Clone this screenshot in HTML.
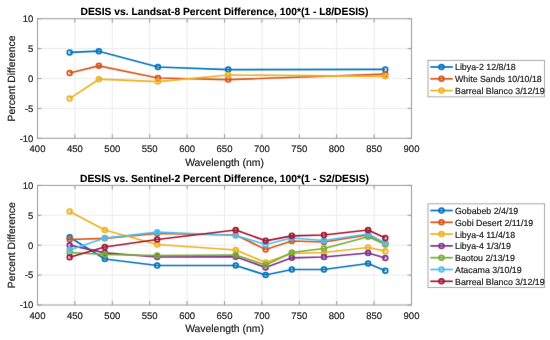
<!DOCTYPE html>
<html><head><meta charset="utf-8"><style>
html,body{margin:0;padding:0;background:#fff;}
svg{display:block;font-family:"Liberation Sans",Arial,sans-serif;}
text{stroke:#262626;stroke-width:0.2px;text-rendering:geometricPrecision;}
</style></head><body>
<svg width="550" height="340" viewBox="0 0 550 340">
<defs><filter id="soft" x="0" y="0" width="550" height="340" filterUnits="userSpaceOnUse" color-interpolation-filters="sRGB"><feConvolveMatrix order="3" kernelMatrix="0.02 0.09 0.02 0.09 1 0.09 0.02 0.09 0.02" edgeMode="duplicate" preserveAlpha="true"/></filter></defs>
<g filter="url(#soft)">
<rect width="550" height="340" fill="#fff"/>
<path d="M74.90 18.70V138.30M112.30 18.70V138.30M149.70 18.70V138.30M187.10 18.70V138.30M224.50 18.70V138.30M261.90 18.70V138.30M299.30 18.70V138.30M336.70 18.70V138.30M374.10 18.70V138.30M37.50 108.40H411.50M37.50 78.50H411.50M37.50 48.60H411.50" stroke="#ebebeb" stroke-width="1" fill="none"/>
<polyline points="69.66,52.40 98.84,51.20 157.93,67.00 228.24,69.60 385.32,69.40" fill="none" stroke="#0072BD" stroke-width="1.7" stroke-linejoin="round"/>
<circle cx="69.66" cy="52.40" r="2.4" fill="none" stroke="#0072BD" stroke-width="1.7"/>
<circle cx="98.84" cy="51.20" r="2.4" fill="none" stroke="#0072BD" stroke-width="1.7"/>
<circle cx="157.93" cy="67.00" r="2.4" fill="none" stroke="#0072BD" stroke-width="1.7"/>
<circle cx="228.24" cy="69.60" r="2.4" fill="none" stroke="#0072BD" stroke-width="1.7"/>
<circle cx="385.32" cy="69.40" r="2.4" fill="none" stroke="#0072BD" stroke-width="1.7"/>
<polyline points="69.66,73.00 98.84,65.80 157.93,78.00 228.24,79.60 385.32,74.20" fill="none" stroke="#D95319" stroke-width="1.7" stroke-linejoin="round"/>
<circle cx="69.66" cy="73.00" r="2.4" fill="none" stroke="#D95319" stroke-width="1.7"/>
<circle cx="98.84" cy="65.80" r="2.4" fill="none" stroke="#D95319" stroke-width="1.7"/>
<circle cx="157.93" cy="78.00" r="2.4" fill="none" stroke="#D95319" stroke-width="1.7"/>
<circle cx="228.24" cy="79.60" r="2.4" fill="none" stroke="#D95319" stroke-width="1.7"/>
<circle cx="385.32" cy="74.20" r="2.4" fill="none" stroke="#D95319" stroke-width="1.7"/>
<polyline points="69.66,98.60 98.84,79.20 157.93,81.60 228.24,75.00 385.32,76.30" fill="none" stroke="#EDB120" stroke-width="1.7" stroke-linejoin="round"/>
<circle cx="69.66" cy="98.60" r="2.4" fill="none" stroke="#EDB120" stroke-width="1.7"/>
<circle cx="98.84" cy="79.20" r="2.4" fill="none" stroke="#EDB120" stroke-width="1.7"/>
<circle cx="157.93" cy="81.60" r="2.4" fill="none" stroke="#EDB120" stroke-width="1.7"/>
<circle cx="228.24" cy="75.00" r="2.4" fill="none" stroke="#EDB120" stroke-width="1.7"/>
<circle cx="385.32" cy="76.30" r="2.4" fill="none" stroke="#EDB120" stroke-width="1.7"/>
<rect x="37.5" y="18.7" width="374.0" height="119.60000000000001" fill="none" stroke="#999999" stroke-width="1"/>
<path d="M37.50 138.30v-4M37.50 18.70v4M74.90 138.30v-4M74.90 18.70v4M112.30 138.30v-4M112.30 18.70v4M149.70 138.30v-4M149.70 18.70v4M187.10 138.30v-4M187.10 18.70v4M224.50 138.30v-4M224.50 18.70v4M261.90 138.30v-4M261.90 18.70v4M299.30 138.30v-4M299.30 18.70v4M336.70 138.30v-4M336.70 18.70v4M374.10 138.30v-4M374.10 18.70v4M411.50 138.30v-4M411.50 18.70v4M37.50 138.30h4M411.50 138.30h-4M37.50 108.40h4M411.50 108.40h-4M37.50 78.50h4M411.50 78.50h-4M37.50 48.60h4M411.50 48.60h-4M37.50 18.70h4M411.50 18.70h-4" stroke="#999999" stroke-width="1" fill="none"/>
<rect x="428" y="60.4" width="116.5" height="36.40" fill="#fff" stroke="#a8a8a8" stroke-width="1"/>
<path d="M430.3 67.00H452.8" stroke="#0072BD" stroke-width="1.7"/>
<circle cx="441.5" cy="67.00" r="2.4" fill="none" stroke="#0072BD" stroke-width="1.7"/>
<path d="M430.3 78.80H452.8" stroke="#D95319" stroke-width="1.7"/>
<circle cx="441.5" cy="78.80" r="2.4" fill="none" stroke="#D95319" stroke-width="1.7"/>
<path d="M430.3 90.60H452.8" stroke="#EDB120" stroke-width="1.7"/>
<circle cx="441.5" cy="90.60" r="2.4" fill="none" stroke="#EDB120" stroke-width="1.7"/>
<path d="M74.90 185.40V305.00M112.30 185.40V305.00M149.70 185.40V305.00M187.10 185.40V305.00M224.50 185.40V305.00M261.90 185.40V305.00M299.30 185.40V305.00M336.70 185.40V305.00M374.10 185.40V305.00M37.50 275.10H411.50M37.50 245.20H411.50M37.50 215.30H411.50" stroke="#ebebeb" stroke-width="1" fill="none"/>
<polyline points="69.66,237.20 104.82,259.00 157.18,265.50 235.72,265.50 265.64,275.00 291.82,269.50 323.98,269.50 368.12,263.50 385.32,270.70" fill="none" stroke="#0072BD" stroke-width="1.7" stroke-linejoin="round"/>
<circle cx="69.66" cy="237.20" r="2.4" fill="none" stroke="#0072BD" stroke-width="1.7"/>
<circle cx="104.82" cy="259.00" r="2.4" fill="none" stroke="#0072BD" stroke-width="1.7"/>
<circle cx="157.18" cy="265.50" r="2.4" fill="none" stroke="#0072BD" stroke-width="1.7"/>
<circle cx="235.72" cy="265.50" r="2.4" fill="none" stroke="#0072BD" stroke-width="1.7"/>
<circle cx="265.64" cy="275.00" r="2.4" fill="none" stroke="#0072BD" stroke-width="1.7"/>
<circle cx="291.82" cy="269.50" r="2.4" fill="none" stroke="#0072BD" stroke-width="1.7"/>
<circle cx="323.98" cy="269.50" r="2.4" fill="none" stroke="#0072BD" stroke-width="1.7"/>
<circle cx="368.12" cy="263.50" r="2.4" fill="none" stroke="#0072BD" stroke-width="1.7"/>
<circle cx="385.32" cy="270.70" r="2.4" fill="none" stroke="#0072BD" stroke-width="1.7"/>
<polyline points="69.66,239.50 104.82,238.30 157.18,233.50 235.72,235.00 265.64,249.50 291.82,241.00 323.98,242.00 368.12,235.00 385.32,243.50" fill="none" stroke="#D95319" stroke-width="1.7" stroke-linejoin="round"/>
<circle cx="69.66" cy="239.50" r="2.4" fill="none" stroke="#D95319" stroke-width="1.7"/>
<circle cx="104.82" cy="238.30" r="2.4" fill="none" stroke="#D95319" stroke-width="1.7"/>
<circle cx="157.18" cy="233.50" r="2.4" fill="none" stroke="#D95319" stroke-width="1.7"/>
<circle cx="235.72" cy="235.00" r="2.4" fill="none" stroke="#D95319" stroke-width="1.7"/>
<circle cx="265.64" cy="249.50" r="2.4" fill="none" stroke="#D95319" stroke-width="1.7"/>
<circle cx="291.82" cy="241.00" r="2.4" fill="none" stroke="#D95319" stroke-width="1.7"/>
<circle cx="323.98" cy="242.00" r="2.4" fill="none" stroke="#D95319" stroke-width="1.7"/>
<circle cx="368.12" cy="235.00" r="2.4" fill="none" stroke="#D95319" stroke-width="1.7"/>
<circle cx="385.32" cy="243.50" r="2.4" fill="none" stroke="#D95319" stroke-width="1.7"/>
<polyline points="69.66,211.50 104.82,230.00 157.18,244.50 235.72,250.00 265.64,262.50 291.82,253.50 323.98,252.50 368.12,247.50 385.32,251.20" fill="none" stroke="#EDB120" stroke-width="1.7" stroke-linejoin="round"/>
<circle cx="69.66" cy="211.50" r="2.4" fill="none" stroke="#EDB120" stroke-width="1.7"/>
<circle cx="104.82" cy="230.00" r="2.4" fill="none" stroke="#EDB120" stroke-width="1.7"/>
<circle cx="157.18" cy="244.50" r="2.4" fill="none" stroke="#EDB120" stroke-width="1.7"/>
<circle cx="235.72" cy="250.00" r="2.4" fill="none" stroke="#EDB120" stroke-width="1.7"/>
<circle cx="265.64" cy="262.50" r="2.4" fill="none" stroke="#EDB120" stroke-width="1.7"/>
<circle cx="291.82" cy="253.50" r="2.4" fill="none" stroke="#EDB120" stroke-width="1.7"/>
<circle cx="323.98" cy="252.50" r="2.4" fill="none" stroke="#EDB120" stroke-width="1.7"/>
<circle cx="368.12" cy="247.50" r="2.4" fill="none" stroke="#EDB120" stroke-width="1.7"/>
<circle cx="385.32" cy="251.20" r="2.4" fill="none" stroke="#EDB120" stroke-width="1.7"/>
<polyline points="69.66,245.20 104.82,252.80 157.18,257.00 235.72,256.80 265.64,267.50 291.82,257.80 323.98,257.00 368.12,253.00 385.32,258.00" fill="none" stroke="#7E2F8E" stroke-width="1.7" stroke-linejoin="round"/>
<circle cx="69.66" cy="245.20" r="2.4" fill="none" stroke="#7E2F8E" stroke-width="1.7"/>
<circle cx="104.82" cy="252.80" r="2.4" fill="none" stroke="#7E2F8E" stroke-width="1.7"/>
<circle cx="157.18" cy="257.00" r="2.4" fill="none" stroke="#7E2F8E" stroke-width="1.7"/>
<circle cx="235.72" cy="256.80" r="2.4" fill="none" stroke="#7E2F8E" stroke-width="1.7"/>
<circle cx="265.64" cy="267.50" r="2.4" fill="none" stroke="#7E2F8E" stroke-width="1.7"/>
<circle cx="291.82" cy="257.80" r="2.4" fill="none" stroke="#7E2F8E" stroke-width="1.7"/>
<circle cx="323.98" cy="257.00" r="2.4" fill="none" stroke="#7E2F8E" stroke-width="1.7"/>
<circle cx="368.12" cy="253.00" r="2.4" fill="none" stroke="#7E2F8E" stroke-width="1.7"/>
<circle cx="385.32" cy="258.00" r="2.4" fill="none" stroke="#7E2F8E" stroke-width="1.7"/>
<polyline points="69.66,252.50 104.82,254.50 157.18,255.50 235.72,255.00 265.64,265.00 291.82,252.50 323.98,248.50 368.12,236.80 385.32,244.60" fill="none" stroke="#77AC30" stroke-width="1.7" stroke-linejoin="round"/>
<circle cx="69.66" cy="252.50" r="2.4" fill="none" stroke="#77AC30" stroke-width="1.7"/>
<circle cx="104.82" cy="254.50" r="2.4" fill="none" stroke="#77AC30" stroke-width="1.7"/>
<circle cx="157.18" cy="255.50" r="2.4" fill="none" stroke="#77AC30" stroke-width="1.7"/>
<circle cx="235.72" cy="255.00" r="2.4" fill="none" stroke="#77AC30" stroke-width="1.7"/>
<circle cx="265.64" cy="265.00" r="2.4" fill="none" stroke="#77AC30" stroke-width="1.7"/>
<circle cx="291.82" cy="252.50" r="2.4" fill="none" stroke="#77AC30" stroke-width="1.7"/>
<circle cx="323.98" cy="248.50" r="2.4" fill="none" stroke="#77AC30" stroke-width="1.7"/>
<circle cx="368.12" cy="236.80" r="2.4" fill="none" stroke="#77AC30" stroke-width="1.7"/>
<circle cx="385.32" cy="244.60" r="2.4" fill="none" stroke="#77AC30" stroke-width="1.7"/>
<polyline points="69.66,250.00 104.82,238.00 157.18,232.20 235.72,235.50 265.64,244.50 291.82,238.00 323.98,240.50 368.12,234.00 385.32,243.10" fill="none" stroke="#4DBEEE" stroke-width="1.7" stroke-linejoin="round"/>
<circle cx="69.66" cy="250.00" r="2.4" fill="none" stroke="#4DBEEE" stroke-width="1.7"/>
<circle cx="104.82" cy="238.00" r="2.4" fill="none" stroke="#4DBEEE" stroke-width="1.7"/>
<circle cx="157.18" cy="232.20" r="2.4" fill="none" stroke="#4DBEEE" stroke-width="1.7"/>
<circle cx="235.72" cy="235.50" r="2.4" fill="none" stroke="#4DBEEE" stroke-width="1.7"/>
<circle cx="265.64" cy="244.50" r="2.4" fill="none" stroke="#4DBEEE" stroke-width="1.7"/>
<circle cx="291.82" cy="238.00" r="2.4" fill="none" stroke="#4DBEEE" stroke-width="1.7"/>
<circle cx="323.98" cy="240.50" r="2.4" fill="none" stroke="#4DBEEE" stroke-width="1.7"/>
<circle cx="368.12" cy="234.00" r="2.4" fill="none" stroke="#4DBEEE" stroke-width="1.7"/>
<circle cx="385.32" cy="243.10" r="2.4" fill="none" stroke="#4DBEEE" stroke-width="1.7"/>
<polyline points="69.66,257.20 104.82,247.00 157.18,239.50 235.72,230.00 265.64,240.80 291.82,235.80 323.98,235.00 368.12,230.00 385.32,238.00" fill="none" stroke="#A2142F" stroke-width="1.7" stroke-linejoin="round"/>
<circle cx="69.66" cy="257.20" r="2.4" fill="none" stroke="#A2142F" stroke-width="1.7"/>
<circle cx="104.82" cy="247.00" r="2.4" fill="none" stroke="#A2142F" stroke-width="1.7"/>
<circle cx="157.18" cy="239.50" r="2.4" fill="none" stroke="#A2142F" stroke-width="1.7"/>
<circle cx="235.72" cy="230.00" r="2.4" fill="none" stroke="#A2142F" stroke-width="1.7"/>
<circle cx="265.64" cy="240.80" r="2.4" fill="none" stroke="#A2142F" stroke-width="1.7"/>
<circle cx="291.82" cy="235.80" r="2.4" fill="none" stroke="#A2142F" stroke-width="1.7"/>
<circle cx="323.98" cy="235.00" r="2.4" fill="none" stroke="#A2142F" stroke-width="1.7"/>
<circle cx="368.12" cy="230.00" r="2.4" fill="none" stroke="#A2142F" stroke-width="1.7"/>
<circle cx="385.32" cy="238.00" r="2.4" fill="none" stroke="#A2142F" stroke-width="1.7"/>
<rect x="37.5" y="185.4" width="374.0" height="119.6" fill="none" stroke="#999999" stroke-width="1"/>
<path d="M37.50 305.00v-4M37.50 185.40v4M74.90 305.00v-4M74.90 185.40v4M112.30 305.00v-4M112.30 185.40v4M149.70 305.00v-4M149.70 185.40v4M187.10 305.00v-4M187.10 185.40v4M224.50 305.00v-4M224.50 185.40v4M261.90 305.00v-4M261.90 185.40v4M299.30 305.00v-4M299.30 185.40v4M336.70 305.00v-4M336.70 185.40v4M374.10 305.00v-4M374.10 185.40v4M411.50 305.00v-4M411.50 185.40v4M37.50 305.00h4M411.50 305.00h-4M37.50 275.10h4M411.50 275.10h-4M37.50 245.20h4M411.50 245.20h-4M37.50 215.30h4M411.50 215.30h-4M37.50 185.40h4M411.50 185.40h-4" stroke="#999999" stroke-width="1" fill="none"/>
<rect x="428" y="203.8" width="116.5" height="83.70" fill="#fff" stroke="#a8a8a8" stroke-width="1"/>
<path d="M430.3 210.50H452.8" stroke="#0072BD" stroke-width="1.7"/>
<circle cx="441.5" cy="210.50" r="2.4" fill="none" stroke="#0072BD" stroke-width="1.7"/>
<path d="M430.3 222.30H452.8" stroke="#D95319" stroke-width="1.7"/>
<circle cx="441.5" cy="222.30" r="2.4" fill="none" stroke="#D95319" stroke-width="1.7"/>
<path d="M430.3 234.10H452.8" stroke="#EDB120" stroke-width="1.7"/>
<circle cx="441.5" cy="234.10" r="2.4" fill="none" stroke="#EDB120" stroke-width="1.7"/>
<path d="M430.3 245.90H452.8" stroke="#7E2F8E" stroke-width="1.7"/>
<circle cx="441.5" cy="245.90" r="2.4" fill="none" stroke="#7E2F8E" stroke-width="1.7"/>
<path d="M430.3 257.70H452.8" stroke="#77AC30" stroke-width="1.7"/>
<circle cx="441.5" cy="257.70" r="2.4" fill="none" stroke="#77AC30" stroke-width="1.7"/>
<path d="M430.3 269.50H452.8" stroke="#4DBEEE" stroke-width="1.7"/>
<circle cx="441.5" cy="269.50" r="2.4" fill="none" stroke="#4DBEEE" stroke-width="1.7"/>
<path d="M430.3 281.30H452.8" stroke="#A2142F" stroke-width="1.7"/>
<circle cx="441.5" cy="281.30" r="2.4" fill="none" stroke="#A2142F" stroke-width="1.7"/>
</g>
<text x="37.50" y="152.00" font-size="9.5" text-anchor="middle" fill="#262626">400</text>
<text x="74.90" y="152.00" font-size="9.5" text-anchor="middle" fill="#262626">450</text>
<text x="112.30" y="152.00" font-size="9.5" text-anchor="middle" fill="#262626">500</text>
<text x="149.70" y="152.00" font-size="9.5" text-anchor="middle" fill="#262626">550</text>
<text x="187.10" y="152.00" font-size="9.5" text-anchor="middle" fill="#262626">600</text>
<text x="224.50" y="152.00" font-size="9.5" text-anchor="middle" fill="#262626">650</text>
<text x="261.90" y="152.00" font-size="9.5" text-anchor="middle" fill="#262626">700</text>
<text x="299.30" y="152.00" font-size="9.5" text-anchor="middle" fill="#262626">750</text>
<text x="336.70" y="152.00" font-size="9.5" text-anchor="middle" fill="#262626">800</text>
<text x="374.10" y="152.00" font-size="9.5" text-anchor="middle" fill="#262626">850</text>
<text x="411.50" y="152.00" font-size="9.5" text-anchor="middle" fill="#262626">900</text>
<text x="33.4" y="141.60" font-size="9.5" text-anchor="end" fill="#262626">-10</text>
<text x="33.4" y="111.70" font-size="9.5" text-anchor="end" fill="#262626">-5</text>
<text x="33.4" y="81.80" font-size="9.5" text-anchor="end" fill="#262626">0</text>
<text x="33.4" y="51.90" font-size="9.5" text-anchor="end" fill="#262626">5</text>
<text x="33.4" y="22.00" font-size="9.5" text-anchor="end" fill="#262626">10</text>
<text x="224.5" y="165.50" font-size="10.4" text-anchor="middle" fill="#262626">Wavelength (nm)</text>
<text transform="translate(14.8 78.50) rotate(-90)" font-size="10.4" text-anchor="middle" fill="#262626">Percent Difference</text>
<text x="224.5" y="15.00" font-size="10.3" font-weight="bold" text-anchor="middle" fill="#000" style="stroke:#000;stroke-width:0.1px">DESIS vs. Landsat-8 Percent Difference, 100*(1 - L8/DESIS)</text>
<text x="455" y="70.40" font-size="8.82" fill="#262626">Libya-2 12/8/18</text>
<text x="455" y="82.20" font-size="8.82" fill="#262626">White Sands 10/10/18</text>
<text x="455" y="94.00" font-size="8.82" fill="#262626">Barreal Blanco 3/12/19</text>
<text x="37.50" y="318.70" font-size="9.5" text-anchor="middle" fill="#262626">400</text>
<text x="74.90" y="318.70" font-size="9.5" text-anchor="middle" fill="#262626">450</text>
<text x="112.30" y="318.70" font-size="9.5" text-anchor="middle" fill="#262626">500</text>
<text x="149.70" y="318.70" font-size="9.5" text-anchor="middle" fill="#262626">550</text>
<text x="187.10" y="318.70" font-size="9.5" text-anchor="middle" fill="#262626">600</text>
<text x="224.50" y="318.70" font-size="9.5" text-anchor="middle" fill="#262626">650</text>
<text x="261.90" y="318.70" font-size="9.5" text-anchor="middle" fill="#262626">700</text>
<text x="299.30" y="318.70" font-size="9.5" text-anchor="middle" fill="#262626">750</text>
<text x="336.70" y="318.70" font-size="9.5" text-anchor="middle" fill="#262626">800</text>
<text x="374.10" y="318.70" font-size="9.5" text-anchor="middle" fill="#262626">850</text>
<text x="411.50" y="318.70" font-size="9.5" text-anchor="middle" fill="#262626">900</text>
<text x="33.4" y="308.30" font-size="9.5" text-anchor="end" fill="#262626">-10</text>
<text x="33.4" y="278.40" font-size="9.5" text-anchor="end" fill="#262626">-5</text>
<text x="33.4" y="248.50" font-size="9.5" text-anchor="end" fill="#262626">0</text>
<text x="33.4" y="218.60" font-size="9.5" text-anchor="end" fill="#262626">5</text>
<text x="33.4" y="188.70" font-size="9.5" text-anchor="end" fill="#262626">10</text>
<text x="224.5" y="332.20" font-size="10.4" text-anchor="middle" fill="#262626">Wavelength (nm)</text>
<text transform="translate(14.8 245.20) rotate(-90)" font-size="10.4" text-anchor="middle" fill="#262626">Percent Difference</text>
<text x="224.5" y="181.70" font-size="10.3" font-weight="bold" text-anchor="middle" fill="#000" style="stroke:#000;stroke-width:0.1px">DESIS vs. Sentinel-2 Percent Difference, 100*(1 - S2/DESIS)</text>
<text x="455" y="213.90" font-size="8.82" fill="#262626">Gobabeb 2/4/19</text>
<text x="455" y="225.70" font-size="8.82" fill="#262626">Gobi Desert 2/11/19</text>
<text x="455" y="237.50" font-size="8.82" fill="#262626">Libya-4 11/4/18</text>
<text x="455" y="249.30" font-size="8.82" fill="#262626">Libya-4 1/3/19</text>
<text x="455" y="261.10" font-size="8.82" fill="#262626">Baotou 2/13/19</text>
<text x="455" y="272.90" font-size="8.82" fill="#262626">Atacama 3/10/19</text>
<text x="455" y="284.70" font-size="8.82" fill="#262626">Barreal Blanco 3/12/19</text>
</svg>
</body></html>
